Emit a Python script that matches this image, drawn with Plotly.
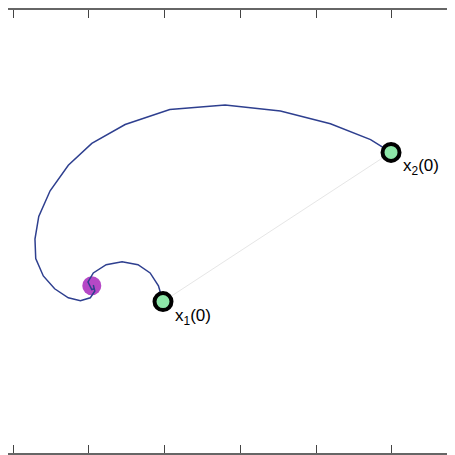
import plotly.graph_objects as go

traj1_x = [1.98,1.92,1.81,1.65,1.44,1.23,1.06,0.99,1.04,1.08]
traj1_y = [2.01,2.22,2.39,2.50,2.54,2.50,2.39,2.27,2.17,2.18]
traj2_x = [4.99,4.72,4.19,3.53,2.80,2.07,1.48,1.04,0.73,0.49,0.34,0.29,0.30,0.40,0.55,0.73,0.89,1.02,1.08,1.06]
traj2_y = [3.99,4.16,4.37,4.54,4.62,4.56,4.36,4.11,3.82,3.48,3.14,2.84,2.58,2.35,2.18,2.06,2.02,2.06,2.15,2.23]
eq_x, eq_y = [1.04], [2.22]
start_x = [1.98, 4.99]
start_y = [2.01, 3.99]
labels = ["x<sub>1</sub>(0)", "x<sub>2</sub>(0)"]

fig = go.Figure()
fig.add_trace(go.Scatter(x=start_x, y=start_y, mode="lines", line=dict(color="#e6e6e6", width=1)))
fig.add_trace(go.Scatter(x=eq_x, y=eq_y, mode="markers", marker=dict(size=19, color="#b548c6")))
fig.add_trace(go.Scatter(x=traj1_x, y=traj1_y, mode="lines", line=dict(color="#2e3f8f", width=1.5)))
fig.add_trace(go.Scatter(x=traj2_x, y=traj2_y, mode="lines", line=dict(color="#2e3f8f", width=1.5)))
fig.add_trace(go.Scatter(x=start_x, y=start_y, mode="markers",
                         marker=dict(size=17, color="#8de6a8", line=dict(color="black", width=4))))
for x, y, t in zip(start_x, start_y, labels):
    fig.add_annotation(x=x, y=y, text=t, showarrow=False, xanchor="left", yanchor="top",
                       xshift=10, yshift=-2, font=dict(family="Liberation Sans, Arial", size=17, color="black"))

fig.update_layout(width=455, height=455, showlegend=False, plot_bgcolor="white", paper_bgcolor="white",
                  margin=dict(l=0, r=0, t=0, b=10))
fig.update_xaxes(range=[-0.066, 5.94], tickvals=[0,1,2,3,4,5], showticklabels=False, ticks="inside",
                 ticklen=8, tickcolor="#444", showline=True, linecolor="#666", linewidth=2, mirror="ticks",
                 showgrid=False, zeroline=False)
fig.update_yaxes(range=[0, 5.88], showticklabels=False, showgrid=False, zeroline=False, showline=False)
fig.write_html("out.html")
